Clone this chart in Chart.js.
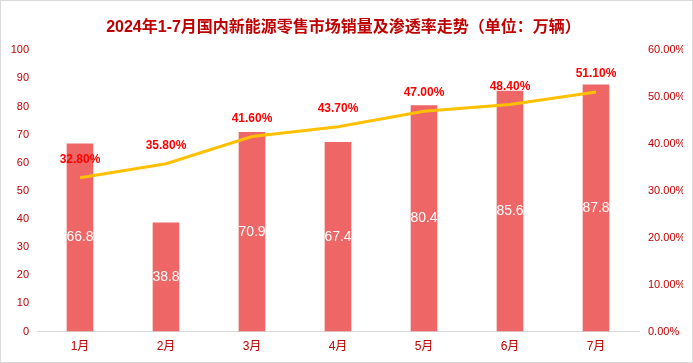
<!DOCTYPE html>
<html>
<head>
<meta charset="utf-8">
<script src="https://cdn.jsdelivr.net/npm/chart.js@4"></script>
<style>
  html, body { margin: 0; padding: 0; background: #fff; }
  #wrap { width: 693px; height: 363px; position: relative; }
</style>
</head>
<body>
<div id="wrap"><canvas id="chart" width="693" height="363"></canvas></div>
<script>
const months = ['1月', '2月', '3月', '4月', '5月', '6月', '7月'];
const sales = [66.8, 38.8, 70.9, 67.4, 80.4, 85.6, 87.8];
const penetration = [32.8, 35.8, 41.6, 43.7, 47.0, 48.4, 51.1];

const FONT = "'Liberation Sans', Arial, 'Noto Sans CJK SC', sans-serif";
const AXIS_RED = '#c00000';

// draws bar values (white, middle) and line values (red, above point)
const valueLabels = {
  id: 'valueLabels',
  afterDatasetsDraw(chart) {
    const ctx = chart.ctx;
    ctx.save();
    ctx.textAlign = 'center';
    ctx.textBaseline = 'middle';
    chart.getDatasetMeta(0).data.forEach((bar, i) => {
      ctx.font = '14px ' + FONT;
      ctx.fillStyle = '#ffffff';
      ctx.fillText(sales[i].toFixed(1), bar.x, (bar.y + bar.base) / 2);
    });
    chart.getDatasetMeta(1).data.forEach((pt, i) => {
      ctx.font = 'bold 12px ' + FONT;
      ctx.fillStyle = '#ff0000';
      ctx.fillText(penetration[i].toFixed(2) + '%', pt.x, pt.y - 18);
    });
    ctx.restore();
  }
};

const frame = {
  id: 'frame',
  afterDraw(chart) {
    const ctx = chart.ctx;
    ctx.save();
    ctx.strokeStyle = '#d9d9d9';
    ctx.lineWidth = 1;
    ctx.strokeRect(0.5, 0.5, chart.width - 1, chart.height - 1);
    ctx.restore();
  }
};

new Chart(document.getElementById('chart'), {
  data: {
    labels: months,
    datasets: [
      {
        type: 'bar',
        data: sales,
        backgroundColor: '#ee6666',
        yAxisID: 'y',
        barPercentage: 0.62,
        categoryPercentage: 0.5,
        order: 2
      },
      {
        type: 'line',
        data: penetration,
        borderColor: '#ffc000',
        borderWidth: 3,
        pointRadius: 0,
        tension: 0,
        yAxisID: 'y1',
        order: 1
      }
    ]
  },
  options: {
    responsive: false,
    animation: false,
    layout: { padding: { left: 4, right: 10, bottom: 1, top: 0 } },
    plugins: {
      legend: { display: false },
      tooltip: { enabled: false },
      title: {
        display: true,
        text: '2024年1-7月国内新能源零售市场销量及渗透率走势（单位：万辆）',
        color: AXIS_RED,
        font: { family: FONT, size: 16, weight: 'bold' },
        padding: { top: 18, bottom: 13 }
      }
    },
    scales: {
      x: {
        grid: { display: false, drawTicks: false },
        border: { color: '#d9d9d9' },
        ticks: { color: AXIS_RED, font: { family: FONT, size: 12 }, padding: 8 }
      },
      y: {
        position: 'left',
        min: 0, max: 100,
        ticks: { stepSize: 10, color: AXIS_RED, font: { family: FONT, size: 11 }, padding: 8 },
        grid: { display: false, drawTicks: false },
        border: { display: false },
        afterFit(scale) { scale.width = 33; }
      },
      y1: {
        position: 'right',
        min: 0, max: 60,
        ticks: {
          stepSize: 10, color: AXIS_RED, font: { family: FONT, size: 11 }, padding: 9,
          callback: v => v.toFixed(2) + '%'
        },
        grid: { display: false, drawTicks: false },
        border: { display: false },
        afterFit(scale) { scale.width = 44; }
      }
    }
  },
  plugins: [valueLabels, frame]
});
</script>
</body>
</html>
